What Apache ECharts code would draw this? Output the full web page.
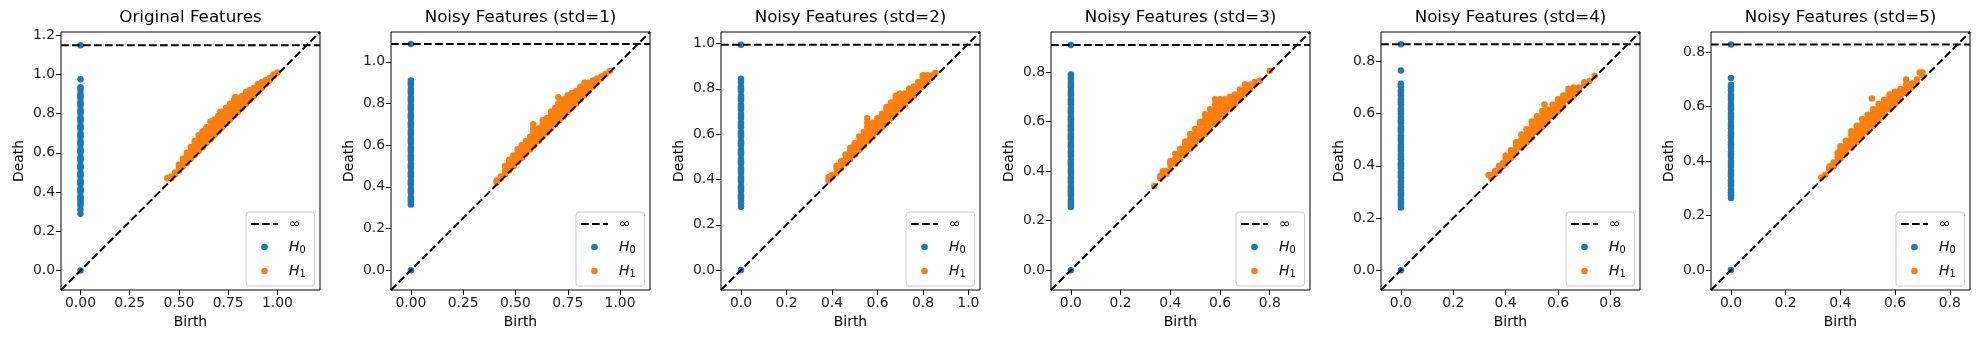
<!DOCTYPE html>
<html><head><meta charset="utf-8">
<script src="https://cdn.jsdelivr.net/npm/echarts@6/dist/echarts.min.js"></script>
<style>html,body{margin:0;padding:0;background:#fff}#c{width:1980px;height:343px}</style>
</head><body><div id="c"></div>
<script>
// ---------- data ----------
const titles = ['Original Features', 'Noisy Features (std=1)', 'Noisy Features (std=2)',
                'Noisy Features (std=3)', 'Noisy Features (std=4)', 'Noisy Features (std=5)'];
const infDeaths = [1.148, 1.085, 0.995, 0.910, 0.866, 0.828];
const axisMin = [-0.099, -0.095, -0.088, -0.080, -0.076, -0.073];
const axisMax = [1.216, 1.143, 1.051, 0.962, 0.913, 0.874];
const xTicks = [[0, 0.25, 0.5, 0.75, 1.0], [0, 0.25, 0.5, 0.75, 1.0], [0, 0.2, 0.4, 0.6, 0.8, 1.0],
                [0, 0.2, 0.4, 0.6, 0.8], [0, 0.2, 0.4, 0.6, 0.8], [0, 0.2, 0.4, 0.6, 0.8]];
const xDecimals = [2, 2, 1, 1, 1, 1];
const yTicks = [[0, 0.2, 0.4, 0.6, 0.8, 1.0, 1.2], [0, 0.2, 0.4, 0.6, 0.8, 1.0], [0, 0.2, 0.4, 0.6, 0.8, 1.0],
                [0, 0.2, 0.4, 0.6, 0.8], [0, 0.2, 0.4, 0.6, 0.8], [0, 0.2, 0.4, 0.6, 0.8]];

// H0 finite deaths (birth = 0)
const h0_1 = [0, 0.29, 0.31, 0.33, 0.345, 0.36, 0.37, 0.38, 0.40, 0.41, 0.42, 0.44, 0.45, 0.46, 0.48, 0.49, 0.50, 0.52, 0.53, 0.54, 0.56, 0.57, 0.58, 0.60, 0.61, 0.62, 0.64, 0.65, 0.66, 0.68, 0.69, 0.70, 0.72, 0.73, 0.74, 0.76, 0.77, 0.78, 0.80, 0.81, 0.82, 0.84, 0.85, 0.86, 0.88, 0.89, 0.90, 0.92, 0.935, 0.975];
const h0_2 = [0, 0.315, 0.33, 0.34, 0.35, 0.37, 0.38, 0.39, 0.41, 0.42, 0.43, 0.45, 0.46, 0.47, 0.49, 0.50, 0.51, 0.53, 0.54, 0.55, 0.57, 0.58, 0.59, 0.61, 0.62, 0.63, 0.65, 0.66, 0.67, 0.69, 0.70, 0.71, 0.73, 0.74, 0.75, 0.77, 0.78, 0.79, 0.81, 0.82, 0.83, 0.85, 0.86, 0.87, 0.89, 0.90, 0.91];
const h0_3 = [0, 0.28, 0.295, 0.31, 0.32, 0.33, 0.35, 0.36, 0.37, 0.39, 0.40, 0.41, 0.43, 0.44, 0.45, 0.47, 0.48, 0.49, 0.51, 0.52, 0.53, 0.55, 0.56, 0.57, 0.59, 0.60, 0.61, 0.63, 0.64, 0.65, 0.67, 0.68, 0.69, 0.71, 0.72, 0.73, 0.75, 0.76, 0.77, 0.79, 0.80, 0.81, 0.83, 0.845];
const h0_4 = [0, 0.255, 0.265, 0.275, 0.285, 0.30, 0.31, 0.32, 0.33, 0.34, 0.355, 0.365, 0.375, 0.39, 0.40, 0.41, 0.425, 0.435, 0.445, 0.46, 0.47, 0.48, 0.495, 0.505, 0.515, 0.53, 0.54, 0.55, 0.565, 0.575, 0.585, 0.60, 0.61, 0.62, 0.635, 0.645, 0.655, 0.67, 0.68, 0.69, 0.705, 0.715, 0.725, 0.74, 0.75, 0.76, 0.775, 0.79];
const h0_5 = [0, 0.24, 0.25, 0.26, 0.27, 0.285, 0.295, 0.305, 0.32, 0.33, 0.34, 0.355, 0.365, 0.375, 0.39, 0.40, 0.41, 0.425, 0.435, 0.445, 0.46, 0.47, 0.48, 0.495, 0.505, 0.515, 0.53, 0.54, 0.55, 0.565, 0.575, 0.585, 0.60, 0.61, 0.62, 0.635, 0.645, 0.655, 0.67, 0.68, 0.69, 0.705, 0.715, 0.765];
const h0_6 = [0, 0.265, 0.275, 0.285, 0.295, 0.31, 0.32, 0.33, 0.345, 0.355, 0.365, 0.38, 0.39, 0.40, 0.415, 0.425, 0.435, 0.45, 0.46, 0.47, 0.485, 0.495, 0.505, 0.52, 0.53, 0.54, 0.555, 0.565, 0.575, 0.59, 0.60, 0.61, 0.625, 0.635, 0.645, 0.66, 0.67, 0.68, 0.705];

// H1 [birth, death]
const h1_1 = [[0.44,0.47],[0.46,0.47],[0.46,0.48],[0.48,0.49],[0.48,0.50],
[0.50,0.51],[0.50,0.53],[0.50,0.54],[0.52,0.53],[0.52,0.55],[0.52,0.57],
[0.54,0.55],[0.54,0.57],[0.54,0.59],[0.54,0.60],[0.56,0.57],[0.56,0.59],[0.56,0.61],[0.56,0.63],
[0.58,0.59],[0.58,0.61],[0.58,0.63],[0.58,0.65],[0.58,0.66],[0.60,0.61],[0.60,0.63],[0.60,0.65],[0.60,0.67],[0.60,0.69],
[0.62,0.63],[0.62,0.65],[0.62,0.67],[0.62,0.69],[0.62,0.71],[0.64,0.65],[0.64,0.67],[0.64,0.69],[0.64,0.71],[0.64,0.73],
[0.66,0.67],[0.66,0.69],[0.66,0.71],[0.66,0.73],[0.66,0.76],[0.68,0.69],[0.68,0.71],[0.68,0.73],[0.68,0.75],[0.68,0.77],
[0.70,0.71],[0.70,0.73],[0.70,0.75],[0.70,0.77],[0.70,0.79],[0.71,0.81],
[0.72,0.73],[0.72,0.75],[0.72,0.77],[0.72,0.79],[0.72,0.81],[0.74,0.75],[0.74,0.77],[0.74,0.79],[0.74,0.81],[0.74,0.83],
[0.76,0.77],[0.76,0.79],[0.76,0.81],[0.76,0.83],[0.76,0.85],[0.78,0.79],[0.78,0.81],[0.78,0.83],[0.78,0.85],[0.78,0.87],[0.785,0.885],
[0.80,0.81],[0.80,0.83],[0.80,0.85],[0.80,0.87],[0.80,0.88],[0.82,0.83],[0.82,0.85],[0.82,0.87],[0.82,0.89],
[0.84,0.85],[0.84,0.87],[0.84,0.89],[0.84,0.91],[0.86,0.87],[0.86,0.89],[0.86,0.91],[0.86,0.92],
[0.88,0.89],[0.88,0.91],[0.88,0.93],[0.90,0.91],[0.90,0.93],[0.90,0.95],[0.92,0.93],[0.92,0.95],[0.92,0.96],
[0.94,0.95],[0.94,0.97],[0.96,0.97],[0.96,0.98],[0.98,0.99],[0.98,1.00],[1.00,1.01]];

const h1_2 = [[0.41,0.42],[0.41,0.43],[0.43,0.44],[0.43,0.45],[0.45,0.46],[0.45,0.48],[0.45,0.50],
[0.47,0.48],[0.47,0.50],[0.47,0.52],[0.47,0.53],[0.49,0.50],[0.49,0.52],[0.49,0.54],[0.49,0.55],
[0.51,0.52],[0.51,0.54],[0.51,0.56],[0.51,0.58],[0.53,0.54],[0.53,0.56],[0.53,0.58],[0.53,0.60],
[0.55,0.56],[0.55,0.58],[0.55,0.60],[0.55,0.62],[0.57,0.58],[0.57,0.60],[0.57,0.62],[0.57,0.64],
[0.585,0.66],[0.585,0.68],[0.585,0.70],[0.59,0.60],[0.59,0.62],[0.59,0.64],[0.59,0.66],
[0.61,0.62],[0.61,0.64],[0.61,0.66],[0.61,0.68],[0.63,0.64],[0.63,0.66],[0.63,0.68],[0.63,0.70],[0.63,0.72],
[0.65,0.66],[0.65,0.68],[0.65,0.70],[0.65,0.72],[0.65,0.73],[0.67,0.68],[0.67,0.70],[0.67,0.72],[0.67,0.74],[0.67,0.76],
[0.69,0.70],[0.69,0.72],[0.69,0.74],[0.69,0.76],[0.69,0.78],[0.705,0.80],[0.705,0.83],
[0.71,0.72],[0.71,0.74],[0.71,0.76],[0.71,0.78],[0.71,0.80],[0.73,0.74],[0.73,0.76],[0.73,0.78],[0.73,0.80],[0.73,0.82],
[0.75,0.76],[0.75,0.78],[0.75,0.80],[0.75,0.82],[0.75,0.84],[0.77,0.78],[0.77,0.80],[0.77,0.82],[0.77,0.84],[0.77,0.85],
[0.79,0.80],[0.79,0.82],[0.79,0.84],[0.79,0.86],[0.81,0.82],[0.81,0.84],[0.81,0.86],[0.81,0.88],
[0.83,0.84],[0.83,0.86],[0.83,0.88],[0.83,0.90],[0.85,0.86],[0.85,0.88],[0.85,0.90],
[0.87,0.88],[0.87,0.90],[0.87,0.91],[0.89,0.90],[0.89,0.92],[0.91,0.92],[0.91,0.93],[0.93,0.94],[0.95,0.955]];

const h1_3 = [[0.385,0.395],[0.385,0.41],[0.40,0.41],[0.40,0.42],[0.42,0.43],[0.42,0.45],[0.42,0.46],
[0.44,0.45],[0.44,0.46],[0.44,0.48],[0.46,0.47],[0.46,0.49],[0.46,0.51],
[0.48,0.49],[0.48,0.51],[0.48,0.53],[0.48,0.54],[0.50,0.51],[0.50,0.53],[0.50,0.55],[0.50,0.56],
[0.52,0.53],[0.52,0.55],[0.52,0.57],[0.52,0.59],[0.54,0.55],[0.54,0.57],[0.54,0.59],[0.54,0.61],
[0.555,0.63],[0.555,0.65],[0.555,0.67],[0.56,0.57],[0.56,0.59],[0.56,0.61],[0.56,0.63],
[0.58,0.59],[0.58,0.61],[0.58,0.63],[0.58,0.65],[0.60,0.61],[0.60,0.63],[0.60,0.65],[0.60,0.67],
[0.62,0.63],[0.62,0.65],[0.62,0.67],[0.62,0.69],[0.64,0.65],[0.64,0.67],[0.64,0.69],[0.64,0.71],[0.64,0.72],
[0.66,0.67],[0.66,0.69],[0.66,0.71],[0.66,0.73],[0.66,0.74],[0.68,0.69],[0.68,0.71],[0.68,0.73],[0.68,0.75],[0.68,0.77],
[0.70,0.71],[0.70,0.73],[0.70,0.75],[0.70,0.77],[0.70,0.78],[0.72,0.73],[0.72,0.75],[0.72,0.77],[0.72,0.78],
[0.74,0.75],[0.74,0.77],[0.74,0.79],[0.74,0.80],[0.76,0.77],[0.76,0.79],[0.76,0.81],
[0.78,0.79],[0.78,0.81],[0.78,0.83],[0.80,0.81],[0.80,0.83],[0.80,0.85],[0.80,0.86],
[0.82,0.83],[0.82,0.85],[0.82,0.86],[0.84,0.85],[0.84,0.86],[0.855,0.87]];

const h1_4 = [[0.335,0.34],[0.36,0.37],[0.36,0.38],[0.37,0.38],[0.37,0.40],[0.385,0.39],[0.385,0.40],
[0.40,0.41],[0.40,0.43],[0.40,0.44],[0.42,0.43],[0.42,0.45],[0.42,0.47],[0.44,0.45],[0.44,0.47],[0.44,0.49],
[0.46,0.47],[0.46,0.49],[0.46,0.51],[0.46,0.52],[0.48,0.49],[0.48,0.51],[0.48,0.53],[0.48,0.55],
[0.50,0.51],[0.50,0.53],[0.50,0.55],[0.50,0.57],[0.52,0.53],[0.52,0.55],[0.52,0.57],[0.52,0.59],[0.52,0.60],
[0.54,0.55],[0.54,0.57],[0.54,0.59],[0.54,0.61],[0.54,0.63],[0.56,0.57],[0.56,0.59],[0.56,0.61],[0.56,0.63],[0.56,0.65],
[0.58,0.59],[0.58,0.61],[0.58,0.63],[0.58,0.65],[0.58,0.67],[0.58,0.69],[0.60,0.61],[0.60,0.63],[0.60,0.65],[0.60,0.67],[0.60,0.69],
[0.62,0.63],[0.62,0.65],[0.62,0.67],[0.62,0.69],[0.64,0.65],[0.64,0.67],[0.64,0.69],[0.64,0.70],
[0.66,0.67],[0.66,0.69],[0.66,0.71],[0.68,0.69],[0.68,0.71],[0.68,0.73],[0.70,0.71],[0.70,0.73],[0.70,0.75],
[0.72,0.73],[0.72,0.75],[0.74,0.75],[0.74,0.76],[0.76,0.765],[0.80,0.805]];

const h1_5 = [[0.335,0.365],[0.345,0.355],[0.345,0.365],[0.36,0.37],[0.36,0.38],[0.375,0.38],[0.375,0.40],[0.39,0.40],[0.39,0.41],
[0.40,0.41],[0.40,0.425],[0.40,0.44],[0.42,0.43],[0.42,0.445],[0.42,0.46],[0.44,0.45],[0.44,0.465],[0.44,0.48],[0.44,0.49],
[0.46,0.47],[0.46,0.485],[0.46,0.50],[0.46,0.52],[0.48,0.49],[0.48,0.505],[0.48,0.52],[0.48,0.54],
[0.50,0.51],[0.50,0.525],[0.50,0.54],[0.50,0.555],[0.50,0.57],[0.52,0.53],[0.52,0.545],[0.52,0.56],[0.52,0.575],[0.52,0.59],
[0.54,0.55],[0.54,0.565],[0.54,0.58],[0.54,0.595],[0.54,0.61],[0.548,0.635],
[0.56,0.57],[0.56,0.585],[0.56,0.60],[0.56,0.615],[0.58,0.59],[0.58,0.605],[0.58,0.62],[0.58,0.635],
[0.60,0.61],[0.60,0.625],[0.60,0.64],[0.60,0.655],[0.62,0.63],[0.62,0.645],[0.62,0.66],[0.62,0.67],
[0.64,0.65],[0.64,0.665],[0.64,0.68],[0.64,0.695],[0.66,0.67],[0.66,0.685],[0.66,0.70],
[0.68,0.69],[0.68,0.70],[0.70,0.71],[0.70,0.72],[0.72,0.725],[0.74,0.745]];

const h1_6 = [[0.33,0.34],[0.345,0.35],[0.36,0.37],[0.36,0.38],[0.375,0.38],[0.375,0.395],
[0.39,0.40],[0.39,0.415],[0.39,0.43],[0.40,0.41],[0.40,0.425],[0.40,0.44],[0.40,0.455],
[0.42,0.43],[0.42,0.445],[0.42,0.46],[0.42,0.475],[0.44,0.45],[0.44,0.465],[0.44,0.48],[0.44,0.495],[0.44,0.51],
[0.46,0.47],[0.46,0.485],[0.46,0.50],[0.46,0.515],[0.46,0.53],[0.48,0.49],[0.48,0.505],[0.48,0.52],[0.48,0.535],[0.48,0.555],
[0.50,0.51],[0.50,0.525],[0.50,0.54],[0.50,0.555],[0.50,0.57],[0.515,0.63],
[0.52,0.53],[0.52,0.545],[0.52,0.56],[0.52,0.575],[0.52,0.59],[0.54,0.55],[0.54,0.565],[0.54,0.58],[0.54,0.595],[0.54,0.61],
[0.56,0.57],[0.56,0.585],[0.56,0.60],[0.56,0.615],[0.56,0.625],[0.58,0.59],[0.58,0.605],[0.58,0.62],[0.58,0.635],[0.58,0.645],
[0.60,0.61],[0.60,0.625],[0.60,0.64],[0.60,0.655],[0.62,0.63],[0.62,0.645],[0.62,0.66],[0.62,0.665],
[0.64,0.65],[0.64,0.665],[0.64,0.68],[0.64,0.70],[0.66,0.67],[0.66,0.685],[0.68,0.69],[0.68,0.70],
[0.69,0.725],[0.70,0.715],[0.70,0.725]];

const h0All = [h0_1, h0_2, h0_3, h0_4, h0_5, h0_6];
const h1All = [h1_1, h1_2, h1_3, h1_4, h1_5, h1_6];

// ---------- layout / style ----------
const FONT = 'DejaVu Sans';
const PANEL_W = 330, PLOT_L = 61, PLOT_W = 259, PLOT_T = 32, PLOT_H = 258;
const BLUE = '#1f77b4', ORANGE = '#ff7f0e';
const DASH = [7.7, 3.3];
const DOT_ICON = 'path://M0,0M27,14M10.2,7a3.3,3.3 0 1,0 6.6,0a3.3,3.3 0 1,0 -6.6,0z';
const DASH_ICON = 'path://M0,0M27,14M0,6h7.7v2h-7.7zM11,6h7.7v2h-7.7zM22,6h5v2h-5z';

const grid = [], xAxis = [], yAxis = [], series = [], legend = [], graphic = [];
for (let i = 0; i < 6; i++) {
  const left = PLOT_L + i * PANEL_W;
  const lo = axisMin[i], hi = axisMax[i], inf = infDeaths[i];
  grid.push({left: left, top: PLOT_T, width: PLOT_W, height: PLOT_H, show: true,
             borderColor: '#000', borderWidth: 1, backgroundColor: '#fff'});
  xAxis.push({type: 'value', gridIndex: i, min: lo, max: hi,
    name: 'Birth', nameLocation: 'middle', nameGap: 25,
    nameTextStyle: {fontFamily: FONT, fontSize: 13.9, color: '#000'},
    splitLine: {show: false}, axisLine: {show: false, onZero: false},
    axisTick: {show: true, customValues: xTicks[i], length: 5, lineStyle: {color: '#000', width: 1}},
    axisLabel: {customValues: xTicks[i], margin: 6, fontFamily: FONT, fontSize: 13.9, color: '#222',
      formatter: v => Number(v).toFixed(xDecimals[i])}});
  yAxis.push({type: 'value', gridIndex: i, min: lo, max: hi,
    name: 'Death', nameLocation: 'middle', nameGap: 35,
    nameTextStyle: {fontFamily: FONT, fontSize: 13.9, color: '#000'},
    splitLine: {show: false}, axisLine: {show: false, onZero: false},
    axisTick: {show: true, customValues: yTicks[i], length: 5, lineStyle: {color: '#000', width: 1}},
    axisLabel: {customValues: yTicks[i], margin: 6, fontFamily: FONT, fontSize: 13.9, color: '#222',
      formatter: v => Number(v).toFixed(1)}});
  const h0Data = h0All[i].map(d => [0, d]).concat([[0, inf]]);
  series.push({type: 'scatter', name: 'H0', xAxisIndex: i, yAxisIndex: i, data: h0Data,
    symbolSize: 6.5, itemStyle: {color: BLUE, opacity: 1}, z: 2, silent: true});
  series.push({type: 'scatter', name: 'H1', xAxisIndex: i, yAxisIndex: i, data: h1All[i],
    symbolSize: 6.5, itemStyle: {color: ORANGE, opacity: 1}, z: 2, silent: true});
  series.push({type: 'line', name: 'inf', xAxisIndex: i, yAxisIndex: i, data: [[lo, inf], [hi, inf]],
    symbol: 'none', lineStyle: {color: '#000', width: 2, type: DASH}, itemStyle: {color: '#000'}, z: 4, silent: true});
  series.push({type: 'line', name: 'diag', xAxisIndex: i, yAxisIndex: i, data: [[lo, lo], [hi, hi]],
    symbol: 'none', lineStyle: {color: '#000', width: 2, type: DASH}, itemStyle: {color: '#000'}, z: 4, silent: true});
  legend.push({orient: 'vertical', left: left + 185, top: 212, selectedMode: false,
    data: [{name: 'inf', icon: DASH_ICON}, {name: 'H0', icon: DOT_ICON}, {name: 'H1', icon: DOT_ICON}],
    itemWidth: 27, itemHeight: 14, itemGap: 9, padding: [5, 9, 7, 5],
    backgroundColor: 'rgba(255,255,255,0.8)', borderColor: '#cccccc', borderWidth: 1, borderRadius: 3,
    formatter: n => n === 'inf' ? '∞' : '{i|H}{s|' + n.slice(1) + '}',
    textStyle: {fontFamily: FONT, fontSize: 13.9, color: '#000', padding: [0, 0, 0, 6],
      rich: {i: {fontFamily: FONT, fontSize: 13.9, fontStyle: 'italic', color: '#000'},
             s: {fontFamily: FONT, fontSize: 9.7, color: '#000', padding: [6, 0, 0, 0]}}}});
  graphic.push({type: 'text', x: left + PLOT_W / 2, y: 18,
    style: {text: titles[i], fontFamily: FONT, fontSize: 16.7, fill: '#000',
            textAlign: 'center', textVerticalAlign: 'middle'}});
}

const chart = echarts.init(document.getElementById('c'));
chart.setOption({animation: false, backgroundColor: '#fff', grid, xAxis, yAxis, series, legend, graphic});
</script></body></html>
